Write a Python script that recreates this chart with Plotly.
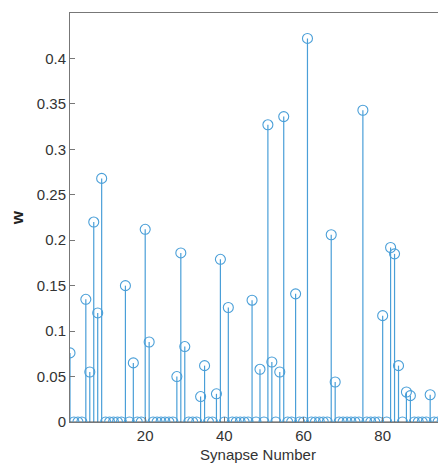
import plotly.graph_objects as go
import numpy as np

# Synapsen mit Gewicht ungleich null (Rest ist 0)
n_synapses = 96
idx = [1, 5, 6, 7, 8, 9, 15, 17, 20, 21, 28, 29, 30, 34, 35, 38, 39, 41, 47, 49,
       51, 52, 54, 55, 58, 61, 67, 68, 75, 80, 82, 83, 84, 86, 87, 92]
vals = [0.076, 0.135, 0.055, 0.22, 0.12, 0.268, 0.15, 0.065, 0.212, 0.088,
        0.05, 0.186, 0.083, 0.028, 0.062, 0.031, 0.179, 0.126, 0.134, 0.058,
        0.327, 0.066, 0.055, 0.336, 0.141, 0.422, 0.206, 0.044, 0.343, 0.117,
        0.192, 0.185, 0.062, 0.033, 0.029, 0.03]
ytick_vals = [0, 0.05, 0.1, 0.15, 0.2, 0.25, 0.3, 0.35, 0.4, 0.45]
ytick_text = ["0", "0.05", "0.1", "0.15", "0.2", "0.25", "0.3", "0.35", "0.4", "0.45"]

x = np.arange(1, n_synapses + 1)
w = np.zeros(n_synapses)
w[np.array(idx) - 1] = vals

color = "#4a9fd8"

# Stiele als Liniensegmente
sx, sy = [], []
for xi, wi in zip(x, w):
    sx += [xi, xi, None]
    sy += [0, wi, None]

fig = go.Figure()
fig.add_trace(go.Scatter(x=sx, y=sy, mode="lines", line=dict(color=color, width=1.2),
                         hoverinfo="skip", showlegend=False))
fig.add_trace(go.Scatter(x=[1, n_synapses], y=[0, 0], mode="lines",
                         line=dict(color="#555555", width=1), showlegend=False))
fig.add_trace(go.Scatter(x=x, y=w, mode="markers", showlegend=False,
                         marker=dict(symbol="circle-open", size=10, color=color,
                                     line=dict(width=1.1))))

axis_common = dict(showgrid=False, zeroline=False, showline=True, linecolor="#777777",
                   mirror=True, ticks="inside", ticklen=5, tickcolor="#777777",
                   tickfont=dict(size=15, color="#333333"))
fig.update_layout(
    width=446, height=470,
    margin=dict(l=62, r=8, t=5, b=56),
    plot_bgcolor="white", paper_bgcolor="white",
    font=dict(family="Liberation Sans, Arial, sans-serif"),
    xaxis=dict(range=[1, n_synapses], tickvals=[20, 40, 60, 80],
               title=dict(text="Synapse Number", font=dict(size=15, color="#333333"), standoff=6),
               **axis_common),
    yaxis=dict(range=[0, 0.45], tickvals=ytick_vals, ticktext=ytick_text,
               title=dict(text="<b>w</b>", font=dict(size=17, color="#222222"), standoff=8),
               **axis_common),
)

fig.write_html("out.html")
